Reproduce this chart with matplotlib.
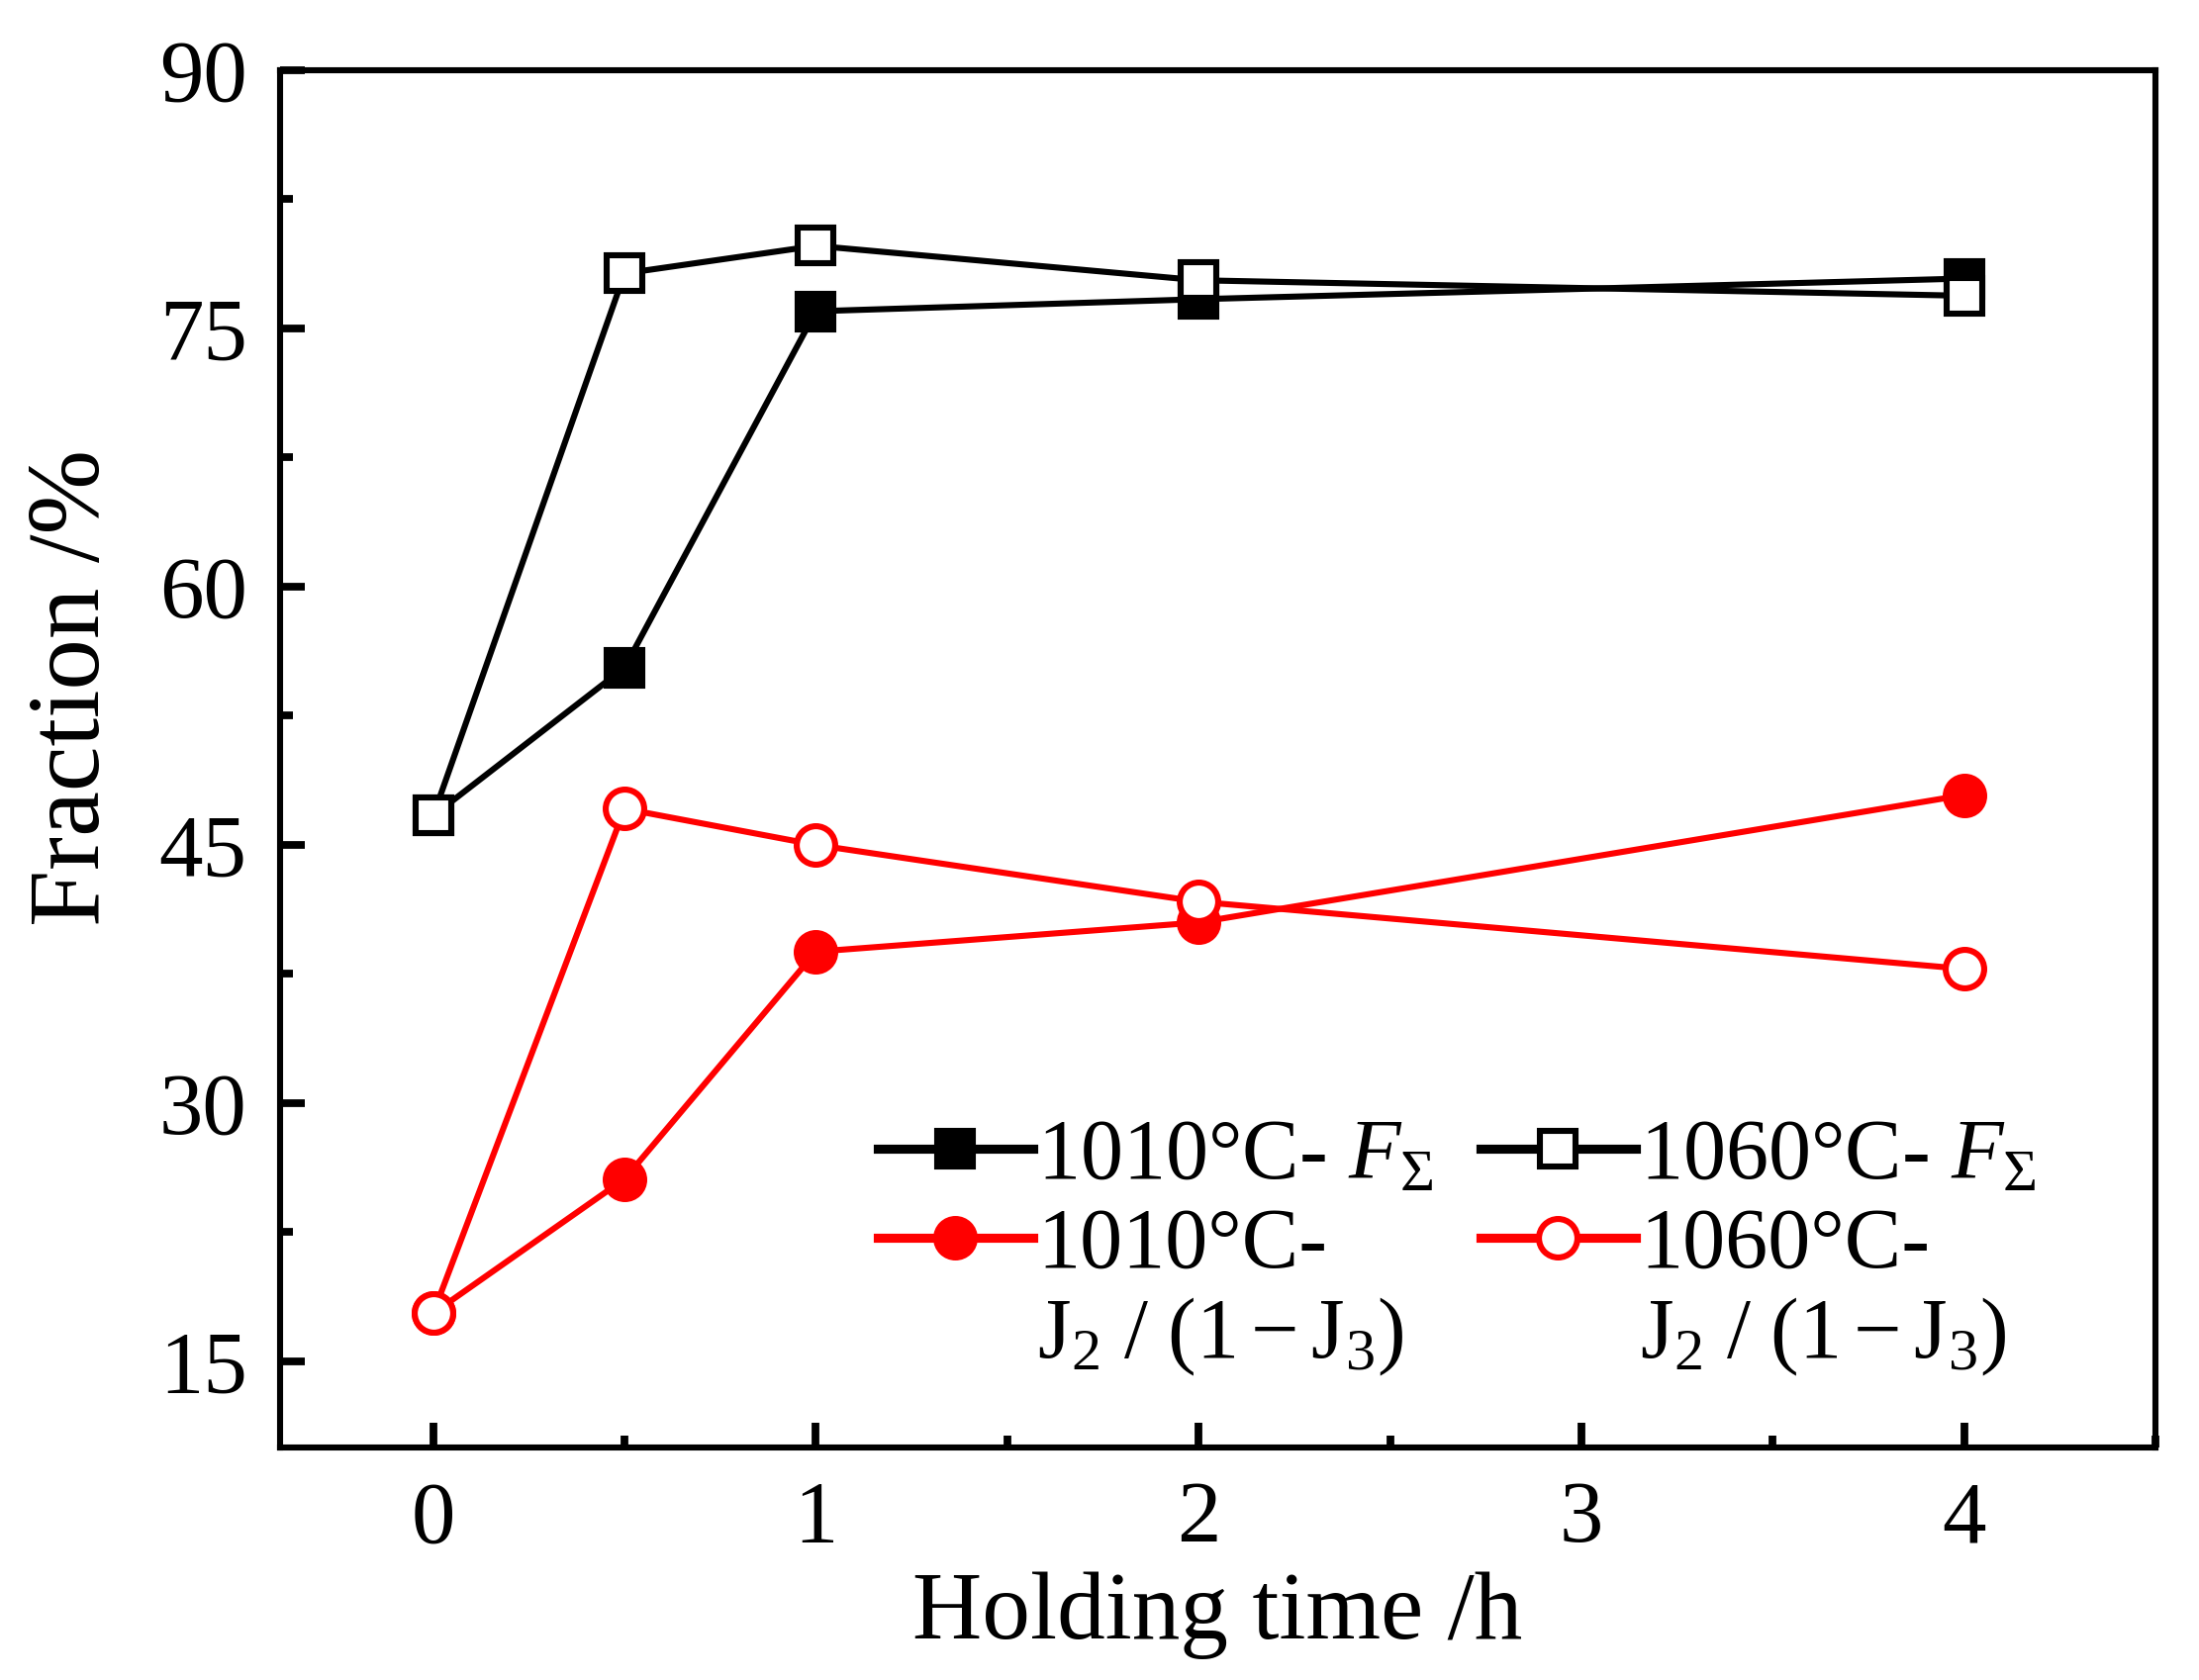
import matplotlib
matplotlib.use('Agg')
import matplotlib.pyplot as plt
from matplotlib.lines import Line2D
from matplotlib.ticker import MultipleLocator

# ================================
# DATA
# ================================
time_h = [0, 0.5, 1, 2, 4]
f_1010 = [46.7, 55.3, 76.0, 76.7, 77.9]
f_1060 = [46.7, 78.2, 79.8, 77.8, 76.9]
j_1010 = [17.8, 25.6, 38.8, 40.5, 47.9]
j_1060 = [17.8, 47.1, 45.0, 41.7, 37.8]

label_f_1010 = '1010°C- $F_\\Sigma$'
label_f_1060 = '1060°C- $F_\\Sigma$'
label_j_1010 = '1010°C-'
label_j_1060 = '1060°C-'
label_ratio = '$\\mathrm{J}_2\\ /\\ (1-\\mathrm{J}_3)$'

plt.rcParams['font.family'] = ['Liberation Serif', 'DejaVu Serif']
plt.rcParams['mathtext.fontset'] = 'custom'
plt.rcParams['mathtext.rm'] = 'Liberation Serif'
plt.rcParams['mathtext.it'] = 'Liberation Serif:italic'

fig = plt.figure(figsize=(11.11, 8.49), dpi=200)
ax = fig.add_axes([0.1274, 0.1384, 0.8528, 0.8198])

lw = 2.2
ms = 13
mew = 2.2
h1, = ax.plot(time_h, f_1010, color='black', lw=lw, marker='s', ms=ms,
              mfc='black', mec='black', mew=mew)
h2, = ax.plot(time_h, f_1060, color='black', lw=lw, marker='s', ms=ms,
              mfc='white', mec='black', mew=mew)
h3, = ax.plot(time_h, j_1010, color='red', lw=lw, marker='o', ms=ms + 1,
              mfc='red', mec='red', mew=mew)
h4, = ax.plot(time_h, j_1060, color='red', lw=lw, marker='o', ms=ms + 1,
              mfc='white', mec='red', mew=mew)

ax.set_xlim(-0.4, 4.5)
ax.set_ylim(10, 90)
ax.xaxis.set_major_locator(MultipleLocator(1))
ax.xaxis.set_minor_locator(MultipleLocator(0.5))
ax.set_yticks([15, 30, 45, 60, 75, 90])
ax.yaxis.set_minor_locator(MultipleLocator(7.5))

ax.tick_params(which='both', direction='in', width=2.8, labelsize=32,
               top=False, right=False)
ax.tick_params(which='major', length=9, pad=12)
ax.tick_params(which='minor', length=4.5)
for sp in ax.spines.values():
    sp.set_linewidth(2.2)

ax.set_xlabel('Holding time /h', fontsize=35, labelpad=4)
ax.set_ylabel('Fraction /%', fontsize=37)
ax.yaxis.set_label_coords(-0.085, 0.552)

# legend: third row holds the second line of the J labels (no handle)
blank = Line2D([], [], linestyle='none')
handles = [h1, h3, blank, h2, h4, blank]
texts = [label_f_1010, label_j_1010, label_ratio,
         label_f_1060, label_j_1060, label_ratio]
leg = ax.legend(handles, texts, ncol=2, loc='lower left',
                bbox_to_anchor=(0.3187, 0.05), frameon=False, fontsize=31,
                handlelength=1.82, handletextpad=0.05, columnspacing=0.55,
                labelspacing=0.12, borderpad=0, borderaxespad=0)
for lh in leg.legend_handles:
    lh.set_linewidth(3.3)

fig.savefig('out.png', dpi=200)
